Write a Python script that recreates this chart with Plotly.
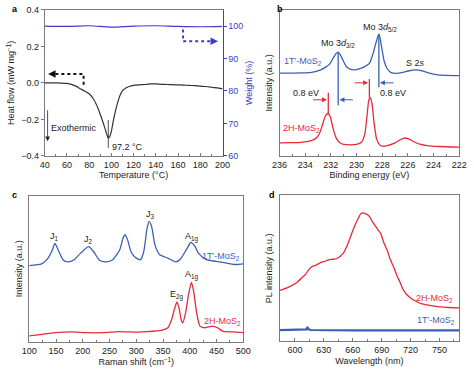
import plotly.graph_objects as go

# ---------------- Panel a : DSC / TGA ----------------
temp_a = [40, 50, 55, 60, 64, 68, 72, 76, 80, 84, 88, 91, 94, 96, 97.2, 98.5, 100, 102, 104, 106,
          108, 110, 113, 116, 120, 125, 130, 135, 140, 145, 150, 155, 160, 165, 170, 175, 180,
          185, 190, 195, 200]
heat_flow = [0.0, 0.0, -0.001, -0.003, -0.008, -0.018, -0.032, -0.045, -0.06, -0.09, -0.14, -0.19,
             -0.245, -0.285, -0.302, -0.295, -0.265, -0.2, -0.145, -0.1, -0.065, -0.042, -0.028,
             -0.02, -0.014, -0.011, -0.009, -0.006, -0.006, -0.008, -0.009, -0.01, -0.011, -0.012,
             -0.014, -0.015, -0.018, -0.02, -0.024, -0.028, -0.033]
temp_w = [40, 60, 80, 100, 120, 140, 160, 180, 200]
weight = [100.0, 99.9, 100.1, 99.7, 100.0, 100.1, 99.9, 99.8, 99.9]
peak_temp = 97.2

# ---------------- Panel b : XPS ----------------
be_1T = [236.0, 235.0, 234.3, 233.5, 232.8, 232.4, 232.1, 231.8, 231.6, 231.43, 231.25, 231.0, 230.8,
         230.5, 230.2, 229.8, 229.4, 229.0, 228.75, 228.5, 228.35, 228.26, 228.15, 228.0, 227.85,
         227.6, 227.3, 226.9, 226.4, 225.9, 225.4, 224.9, 224.4, 223.8, 223.0, 222.0]
xps_1T = [0.567, 0.567, 0.568, 0.572, 0.589, 0.608, 0.628, 0.672, 0.700, 0.711, 0.690, 0.645, 0.612,
          0.594, 0.589, 0.595, 0.610, 0.633, 0.690, 0.770, 0.815, 0.833, 0.800, 0.720, 0.650,
          0.595, 0.570, 0.565, 0.572, 0.583, 0.589, 0.583, 0.568, 0.556, 0.551, 0.549]
be_2H = [236.0, 235.0, 234.3, 233.6, 233.2, 232.9, 232.65, 232.45, 232.25, 232.05, 231.85, 231.6, 231.3,
         231.0, 230.5, 230.0, 229.6, 229.35, 229.2, 229.05, 228.95, 228.8, 228.65, 228.45, 228.2,
         228.0, 227.6, 227.0, 226.6, 226.3, 225.9, 225.5, 225.0, 224.5, 223.5, 222.0]
xps_2H = [0.089, 0.090, 0.093, 0.102, 0.118, 0.150, 0.215, 0.268, 0.290, 0.270, 0.195, 0.125, 0.090,
          0.078, 0.075, 0.078, 0.095, 0.150, 0.260, 0.380, 0.400, 0.360, 0.240, 0.120, 0.075,
          0.066, 0.070, 0.089, 0.110, 0.122, 0.115, 0.095, 0.078, 0.070, 0.064, 0.060]
peaks_1T = [231.43, 228.26]
peaks_2H = [232.2, 229.0]

# ---------------- Panel c : Raman ----------------
raman_1T = [100, 123, 133, 142, 148, 154, 163, 172, 184, 196, 211, 220, 232, 244, 256, 269, 275, 279,
            284, 290, 299, 308, 314, 320, 324, 329, 335, 344, 359, 374, 383, 395, 402, 410, 416,
            431, 449, 467, 486, 500]
ram_1T = [0.522, 0.533, 0.562, 0.618, 0.673, 0.629, 0.562, 0.547, 0.562, 0.607, 0.651, 0.618, 0.556,
          0.547, 0.562, 0.629, 0.707, 0.733, 0.696, 0.618, 0.575, 0.562, 0.618, 0.773, 0.824, 0.784,
          0.662, 0.596, 0.573, 0.547, 0.569, 0.640, 0.680, 0.651, 0.607, 0.562, 0.551, 0.540,
          0.529, 0.533]
raman_2H = [100, 124, 148, 178, 208, 238, 268, 300, 317, 347, 359, 366, 371, 376, 380, 384, 387, 392,
            398, 403, 407, 413, 419, 428, 443, 452, 461, 480, 500]
ram_2H = [0.040, 0.051, 0.062, 0.067, 0.062, 0.062, 0.069, 0.066, 0.069, 0.078, 0.096, 0.151, 0.218,
          0.273, 0.229, 0.151, 0.129, 0.196, 0.329, 0.407, 0.351, 0.196, 0.107, 0.096, 0.107,
          0.096, 0.073, 0.067, 0.062]

# ---------------- Panel d : PL ----------------
wl_2H = [584, 593, 602, 608, 611, 614, 618, 622, 627, 631, 635, 640, 644, 650, 655, 660, 663, 666,
         668, 670, 673, 675, 678, 680, 683, 686, 689, 692, 696, 699, 703, 706, 709, 712, 716, 721,
         726, 731, 740, 748, 756, 764, 771]
pl_2H = [0.347, 0.369, 0.402, 0.440, 0.458, 0.487, 0.513, 0.522, 0.540, 0.548, 0.558, 0.562, 0.569,
         0.602, 0.669, 0.758, 0.805, 0.847, 0.872, 0.880, 0.875, 0.869, 0.850, 0.824, 0.795, 0.765,
         0.740, 0.680, 0.620, 0.558, 0.500, 0.447, 0.405, 0.358, 0.320, 0.291, 0.272, 0.258,
         0.245, 0.236, 0.232, 0.229, 0.228]
wl_1T = [584, 595, 605, 610, 612, 613, 614, 616, 625, 640, 660, 680, 700, 720, 740, 760, 771]
pl_1T = [0.075, 0.075, 0.076, 0.077, 0.080, 0.098, 0.082, 0.076, 0.075, 0.075, 0.074, 0.074, 0.074,
         0.073, 0.074, 0.074, 0.074]

# ---------------- styling ----------------
BLUE = "#3a5fb3"
RED = "#e6293b"
VIOLET = "#3d3dc8"
FRAME = "#7a7a7a"
TXT = "#222222"
FONT = "Liberation Sans, Arial, sans-serif"
FS = 9

fig = go.Figure()

# panel a
fig.add_trace(go.Scatter(x=temp_a, y=heat_flow, mode="lines", line=dict(color="#333333", width=1.2, shape="spline", smoothing=0.6),
                         xaxis="x", yaxis="y", showlegend=False))
fig.add_trace(go.Scatter(x=temp_w, y=weight, mode="lines", line=dict(color=VIOLET, width=1.2, shape="spline"),
                         xaxis="x", yaxis="y5", showlegend=False))
# panel b
fig.add_trace(go.Scatter(x=be_1T, y=xps_1T, mode="lines", line=dict(color=BLUE, width=1.3, shape="spline", smoothing=0.5),
                         xaxis="x2", yaxis="y2", showlegend=False))
fig.add_trace(go.Scatter(x=be_2H, y=xps_2H, mode="lines", line=dict(color=RED, width=1.3, shape="spline", smoothing=0.5),
                         xaxis="x2", yaxis="y2", showlegend=False))
# panel c
fig.add_trace(go.Scatter(x=raman_1T, y=ram_1T, mode="lines", line=dict(color=BLUE, width=1.3, shape="spline", smoothing=0.6),
                         xaxis="x3", yaxis="y3", showlegend=False))
fig.add_trace(go.Scatter(x=raman_2H, y=ram_2H, mode="lines", line=dict(color=RED, width=1.3, shape="spline", smoothing=0.6),
                         xaxis="x3", yaxis="y3", showlegend=False))
# panel d
fig.add_trace(go.Scatter(x=wl_2H, y=pl_2H, mode="lines", line=dict(color=RED, width=1.3, shape="spline", smoothing=0.5),
                         xaxis="x4", yaxis="y4", showlegend=False))
fig.add_trace(go.Scatter(x=wl_1T, y=pl_1T, mode="lines", line=dict(color=BLUE, width=2.2),
                         xaxis="x4", yaxis="y4", showlegend=False))

W, H = 474, 374
def dx(a, b):
    return [a / W, b / W]
def dy(top, bottom):
    return [1 - bottom / H, 1 - top / H]

tickfont = dict(family=FONT, size=FS, color=TXT)
titlefont = dict(family=FONT, size=FS, color=TXT)

def xax(domain, anchor, rng, tickvals, minor, title, standoff=3):
    return dict(domain=domain, anchor=anchor, range=rng, tickvals=tickvals, showline=True, linecolor=FRAME,
                linewidth=1, mirror=True, ticks="inside", ticklen=3, tickcolor=FRAME, showgrid=False,
                zeroline=False, tickfont=tickfont, minor=dict(dtick=minor, ticks="inside", ticklen=2, tickcolor=FRAME),
                title=dict(text=title, font=titlefont, standoff=standoff))

def yax_blank(domain, anchor, title, standoff=4):
    return dict(domain=domain, anchor=anchor, range=[0, 1], showline=True, linecolor=FRAME, linewidth=1,
                mirror=True, ticks="", showticklabels=False, showgrid=False, zeroline=False,
                title=dict(text=title, font=titlefont, standoff=standoff))

layout = dict(
    width=W, height=H, margin=dict(l=0, r=0, t=0, b=0), paper_bgcolor="white", plot_bgcolor="white",
    font=dict(family=FONT, size=FS, color=TXT),
    xaxis=xax(dx(38, 222), "y", [40, 200], list(range(40, 201, 20)), 10, "Temperature (°C)"),
    yaxis=dict(domain=dy(5, 155), anchor="x", range=[-0.4, 0.4], tickvals=[-0.4, -0.2, 0.0, 0.2, 0.4],
               ticktext=["−0.4", "−0.2", "0.0", "0.2", "0.4"], showline=True, linecolor=FRAME, mirror=False,
               ticks="outside", ticklen=3, tickcolor=FRAME, showgrid=False, zeroline=False, tickfont=tickfont,
               title=dict(text="Heat flow (mW mg<sup>−1</sup>)", font=titlefont, standoff=4)),
    yaxis5=dict(overlaying="y", side="right", anchor="x", range=[60, 105], tickvals=[60, 70, 80, 90, 100],
                showline=True, linecolor=VIOLET, ticks="outside", ticklen=3, tickcolor=VIOLET, showgrid=False,
                zeroline=False, tickfont=dict(family=FONT, size=FS, color=VIOLET),
                title=dict(text="Weight (%)", font=dict(family=FONT, size=FS, color=VIOLET), standoff=3)),
    xaxis2=xax(dx(281, 467), "y2", [236, 222], list(range(236, 221, -2)), 1, "Binding energy (eV)"),
    yaxis2=yax_blank(dy(5, 155), "x2", "Intensity (a.u.)"),
    xaxis3=xax(dx(22, 243.5), "y3", [100, 500], list(range(100, 501, 50)), 25, "Raman shift (cm<sup>−1</sup>)"),
    yaxis3=yax_blank(dy(196, 346), "x3", "Intensity (a.u.)"),
    xaxis4=xax(dx(281, 467), "y4", [584, 770.5], list(range(600, 751, 30)), 15, "Wavelength (nm)"),
    yaxis4=yax_blank(dy(195.7, 345.3), "x4", "PL intensity (a.u.)"),
)
fig.update_layout(**layout)

ann = []
def text(x, y, s, xr, yr, color=TXT, xanchor="center", size=FS):
    ann.append(dict(x=x, y=y, xref=xr, yref=yr, text=s, showarrow=False, xanchor=xanchor, yanchor="middle",
                    font=dict(family=FONT, size=size, color=color)))

def arrow(x0, y0, x1, y1, xr, yr, color, width=1.0, head=2, size=1.0):
    ann.append(dict(x=x1, y=y1, ax=x0, ay=y0, xref=xr, yref=yr, axref=xr, ayref=yr, text="", showarrow=True,
                    arrowhead=head, arrowsize=size, arrowwidth=width, arrowcolor=color))

# panel letters
for lx, ly, s in [(2, 4, "a"), (276, 4, "b"), (2, 195, "c"), (268, 195, "d")]:
    ann.append(dict(x=lx / W, y=1 - ly / H, xref="paper", yref="paper", text="<b>%s</b>" % s, showarrow=False,
                    xanchor="left", yanchor="middle", font=dict(family=FONT, size=FS, color="#000")))

shapes = []
# panel a annotations
shapes.append(dict(type="path", path="M 75,-0.011 L 75,0.048 L 49,0.048", xref="x", yref="y",
                   line=dict(color="#111", width=2, dash="dot")))
arrow(50, 0.048, 43, 0.048, "x", "y", "#111", width=1.5, head=2, size=1)
shapes.append(dict(type="path", path="M 164.5,0.293 L 164.5,0.228 L 190,0.228", xref="x", yref="y",
                   line=dict(color=VIOLET, width=2, dash="dot")))
arrow(189, 0.228, 196, 0.228, "x", "y", VIOLET, width=1.5, head=2, size=1)
arrow(42.6, -0.142, 42.6, -0.32, "x", "y", "#222", width=0.8, head=2, size=1.2)
text(44, -0.245, "Exothermic", "x", "y", xanchor="left")
shapes.append(dict(type="line", x0=peak_temp, x1=peak_temp, y0=-0.203, y1=-0.356, xref="x", yref="y",
                   line=dict(color="#222", width=0.8)))
text(99, -0.35, "97.2 °C", "x", "y", xanchor="left")

# panel b annotations
shapes.append(dict(type="line", x0=peaks_1T[0], x1=peaks_1T[0], y0=0.711, y1=0.347, xref="x2", yref="y2",
                   line=dict(color=BLUE, width=1.3)))
shapes.append(dict(type="line", x0=peaks_1T[1], x1=peaks_1T[1], y0=0.833, y1=0.47, xref="x2", yref="y2",
                   line=dict(color=BLUE, width=1.3)))
shapes.append(dict(type="line", x0=peaks_2H[0], x1=peaks_2H[0], y0=0.289, y1=0.433, xref="x2", yref="y2",
                   line=dict(color=RED, width=1.3)))
shapes.append(dict(type="line", x0=peaks_2H[1], x1=peaks_2H[1], y0=0.4, y1=0.527, xref="x2", yref="y2",
                   line=dict(color=RED, width=1.3)))
arrow(233.5, 0.384, 232.3, 0.384, "x2", "y2", RED)
arrow(230.17, 0.384, 231.33, 0.384, "x2", "y2", BLUE)
arrow(230.25, 0.5, 229.1, 0.5, "x2", "y2", RED)
arrow(227.0, 0.5, 228.18, 0.5, "x2", "y2", BLUE)
text(233.9, 0.433, "0.8 eV", "x2", "y2")
text(227.15, 0.433, "0.8 eV", "x2", "y2")
text(231.43, 0.767, "Mo 3<i>d</i><sub>3/2</sub>", "x2", "y2")
text(228.2, 0.882, "Mo 3<i>d</i><sub>5/2</sub>", "x2", "y2")
text(225.4, 0.638, "S 2<i>s</i>", "x2", "y2")
text(234.2, 0.644, "1T′-MoS<sub>2</sub>", "x2", "y2", color=BLUE)
text(234.3, 0.189, "2H-MoS<sub>2</sub>", "x2", "y2", color=RED)

# panel c annotations
text(147.6, 0.72, "J<sub>1</sub>", "x3", "y3")
text(211, 0.70, "J<sub>2</sub>", "x3", "y3")
text(325.7, 0.875, "J<sub>3</sub>", "x3", "y3")
text(403.5, 0.715, "A<sub>1g</sub>", "x3", "y3")
text(376.9, 0.322, "E<sub>2g</sub>", "x3", "y3")
text(403.5, 0.455, "A<sub>1g</sub>", "x3", "y3")
text(458, 0.584, "1T′-MoS<sub>2</sub>", "x3", "y3", color=BLUE)
text(461, 0.14, "2H-MoS<sub>2</sub>", "x3", "y3", color=RED)

# panel d annotations
text(745, 0.291, "2H-MoS<sub>2</sub>", "x4", "y4", color=RED)
text(746, 0.14, "1T′-MoS<sub>2</sub>", "x4", "y4", color=BLUE)

fig.update_layout(annotations=ann, shapes=shapes)
fig.write_html("out.html", config={"displayModeBar": False},
               post_script="document.body.style.margin='0';document.body.style.overflow='hidden';")
